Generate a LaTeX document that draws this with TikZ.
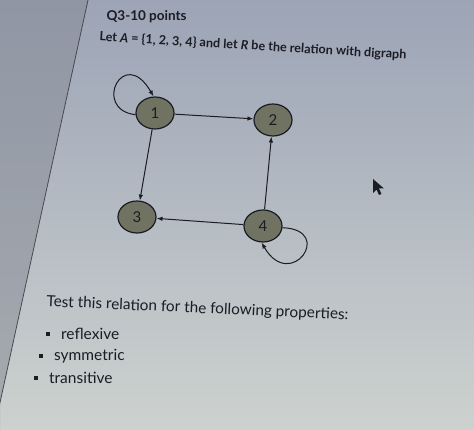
\documentclass[tikz,border=0pt]{standalone}
\usepackage{fontspec}
\setmainfont{Lato}
\usepackage{tikz}
\usetikzlibrary{positioning,shapes.geometric,arrows.meta}

\definecolor{papertop}{RGB}{156,164,182}
\definecolor{papermid}{RGB}{182,188,198}
\definecolor{paperlow}{RGB}{205,210,207}
\definecolor{bezel}{RGB}{135,140,150}
\definecolor{vfill}{RGB}{112,114,98}
\definecolor{ink}{RGB}{28,28,36}

\begin{document}
\begin{tikzpicture}[x=1pt,y=-1pt,
        vert/.style={ellipse,draw=ink,line width=1.2pt,fill=vfill,
            minimum width=38pt,minimum height=32pt,inner sep=0pt,
            font=\fontsize{15}{15}\selectfont,text=ink},
        edge/.style={-{Latex[length=6pt,width=4.5pt]},ink,line width=1pt},
        dot/.style={rectangle,fill=ink,minimum size=3.5pt,inner sep=0pt},
        item/.style={inner sep=0pt,anchor=west,text=ink,font=\fontsize{15.5}{15.5}\selectfont}]
        \useasboundingbox (0,0) rectangle (474,430);
        \shade[top color=papertop, middle color=papermid, bottom color=paperlow] (0,0) rectangle (474,430);
        \fill[bezel,opacity=0.55] (0,0) -- (88,0) -- (-6,430) -- (0,430) -- cycle;
        \draw[ink!80,line width=0.8pt] (88,0) -- (-6,430);

        \node[anchor=base west,text=ink,font=\bfseries\fontsize{13.5}{13.5}\selectfont] (title) at (103,21) {Q3-10 points};
        \node[anchor=west,text=ink,rotate=-3.4,font=\bfseries\fontsize{12.6}{12.6}\selectfont] (given) at (96,37)
            {Let \textit{A} = \{1, 2, 3, 4\} and let \textit{R} be the relation with digraph};

        \node[vert] (v1) at (155,113) {1};
        \node[vert] (v2) at (273,120) {2};
        \node[vert] (v3) at (137,217) {3};
        \node[vert] (v4) at (263,226) {4};

        \draw[edge] (v1) -- (v2);
        \draw[edge] (v1) -- (v3);
        \draw[edge] (v4) -- (v2);
        \draw[edge] (v4) -- (v3);
        \draw[edge] (v1.185) .. controls +(-44,-5) and +(-30,-52) .. (v1.95);
        \draw[edge] (v4.-5) .. controls +(53,2) and +(29,50) .. (v4.-95);

        \fill[ink] (373,179) -- (373,193) -- (376.5,189.5) -- (379,195) -- (381.5,194) -- (379,188.5) -- (384,188.5) -- cycle;

        \node[anchor=west,text=ink,rotate=-2.5,font=\fontsize{15.3}{15.3}\selectfont] (task) at (43,302)
            {Test this relation for the following properties:};
        \foreach \prop/\bx/\by [count=\i] in {reflexive/48/334, symmetric/41/356, transitive/36/378}
        {
            \node[dot] (b\i) at (\bx,\by) {};
            \node[item, right=11pt of b\i] (p\i) {\prop};
        }
\end{tikzpicture}
\end{document}
